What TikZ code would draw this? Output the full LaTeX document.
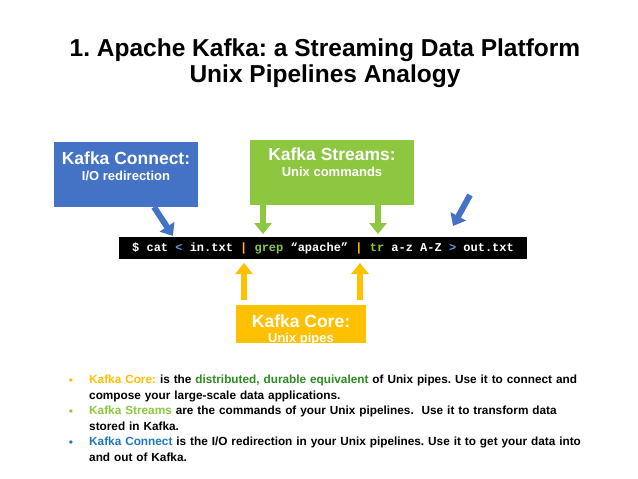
\documentclass[tikz,border=0pt]{standalone}
\usepackage{fontspec}
\setmainfont{Liberation Sans}
\newfontfamily\cmdfont{Liberation Mono}
\usetikzlibrary{arrows.meta}
\frenchspacing
\definecolor{kblue}{HTML}{4472C4}
\definecolor{kgreen}{HTML}{8DC63F}
\definecolor{korange}{HTML}{FFC000}
\definecolor{dgreen}{HTML}{2E8B22}
\definecolor{cblue}{HTML}{1F77C0}
\definecolor{cmdblue}{HTML}{5B9BD5}
\tikzset{
  x=1pt,y=-1pt,
  fat/.style={line width=6pt,-{Triangle[length=11pt,width=17pt]}},
  bul/.style={anchor=north west,inner sep=0pt,font=\bfseries\fontsize{11.8}{15.5}\selectfont,align=left,text width=530pt}
}
\begin{document}
\begin{tikzpicture}
\useasboundingbox[fill=white] (0,0) rectangle (638,479);
\node (t1) at (325,50) {\bfseries\fontsize{24.5}{28}\selectfont 1. Apache Kafka: a Streaming Data Platform};
\node (t2) at (325,76) {\bfseries\fontsize{24.5}{28}\selectfont Unix Pipelines Analogy};
% boxes
\fill[kblue] (54,142) rectangle (198,207);
\node (kc) at (126,158) {\color{white}\bfseries\fontsize{17.5}{19}\selectfont Kafka Connect:};
\node (kc2) at (126,176) {\color{white}\bfseries\fontsize{13}{15}\selectfont I/O redirection};
\fill[kgreen] (250,140) rectangle (414,205);
\node (ks) at (332,154) {\color{white}\bfseries\fontsize{17.5}{19}\selectfont Kafka Streams:};
\node (ks2) at (332,172) {\color{white}\bfseries\fontsize{13}{15}\selectfont Unix commands};
\fill[korange] (236,305) rectangle (366,343);
\node (kk) at (301,321) {\color{white}\bfseries\fontsize{17.5}{19}\selectfont Kafka Core:};
\node (kk2) at (301,339) {\color{white}\bfseries\fontsize{13}{15}\selectfont Unix pipes};
% command bar
\fill[black] (119,237) rectangle (527,259);
\node (cmd) at (323,248) {\cmdfont\bfseries\fontsize{12}{14}\selectfont\color{white}\$ cat \textcolor{cmdblue}{<} in.txt \textcolor{korange}{|} \textcolor{kgreen}{grep} “apache” \textcolor{korange}{|} \textcolor{kgreen}{tr} a-z A-Z \textcolor{cmdblue}{>} out.txt};
% arrows
\coordinate (b1s) at (154,207); \coordinate (b1e) at (173,236);
\coordinate (b2s) at (470,195); \coordinate (b2e) at (453,226);
\coordinate (g1s) at (263,205); \coordinate (g1e) at (263,234);
\coordinate (g2s) at (378,205); \coordinate (g2e) at (378,234);
\coordinate (o1s) at (244,300); \coordinate (o1e) at (244,263);
\coordinate (o2s) at (360,300); \coordinate (o2e) at (360,263);
\draw[fat,kblue] (b1s) -- (b1e);
\draw[fat,kblue] (b2s) -- (b2e);
\draw[fat,kgreen] (g1s) -- (g1e);
\draw[fat,kgreen] (g2s) -- (g2e);
\draw[fat,korange] (o1s) -- (o1e);
\draw[fat,korange] (o2s) -- (o2e);
% bullets
\node[bul] (l1) at (89,375) {\textcolor{korange}{Kafka Core:} is the \textcolor{dgreen}{distributed, durable equivalent} of Unix pipes. Use it to connect and\\compose your large-scale data applications.};
\node[bul] (l2) at (89,406) {\textcolor{kgreen}{Kafka Streams} are the commands of your Unix pipelines.\ \ Use it to transform data\\stored in Kafka.};
\node[bul] (l3) at (89,437) {\textcolor{cblue}{Kafka Connect} is the I/O redirection in your Unix pipelines. Use it to get your data into\\and out of Kafka.};
\node[text=korange,font=\large] (d1) at (71,382) {\textbullet};
\node[text=kgreen,font=\large] (d2) at (71,413) {\textbullet};
\node[text=cblue,font=\large] (d3) at (71,444) {\textbullet};
\end{tikzpicture}
\end{document}
